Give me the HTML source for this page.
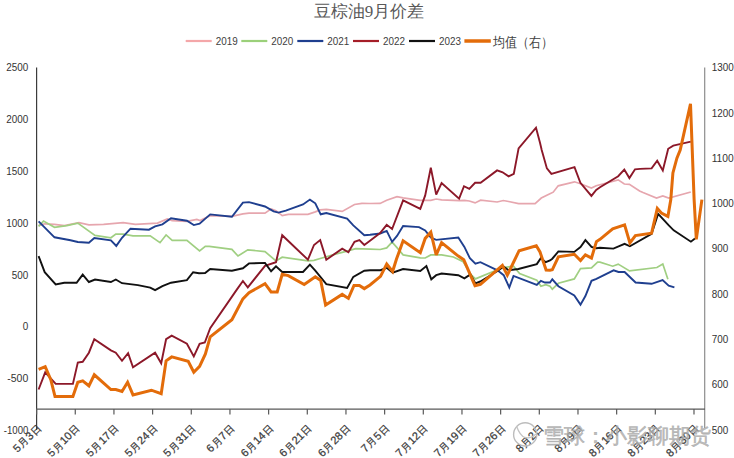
<!DOCTYPE html>
<html><head><meta charset="utf-8"><style>
html,body{margin:0;padding:0;background:#fff;}
body{width:734px;height:458px;overflow:hidden;font-family:"Liberation Sans",sans-serif;}
svg{display:block;}
text{font-family:"Liberation Sans",sans-serif;}
.ttl{font-family:"Liberation Serif",serif;}
</style></head><body>
<svg width="734" height="458" viewBox="0 0 734 458">
<rect width="734" height="458" fill="#fff"/>
<text x="369" y="17" text-anchor="middle" font-size="17" fill="#595959" class="ttl">豆棕油9月价差</text>
<line x1="185.7" y1="41" x2="211.7" y2="41" stroke="#F4A7A9" stroke-width="2.2"/>
<text x="215.7" y="45" font-size="11" fill="#404040" textLength="22" lengthAdjust="spacingAndGlyphs">2019</text>
<line x1="241.3" y1="41" x2="267.3" y2="41" stroke="#9BD07A" stroke-width="2.2"/>
<text x="271.3" y="45" font-size="11" fill="#404040" textLength="22" lengthAdjust="spacingAndGlyphs">2020</text>
<line x1="297.3" y1="41" x2="323.3" y2="41" stroke="#1F3F8F" stroke-width="2.2"/>
<text x="327.3" y="45" font-size="11" fill="#404040" textLength="22" lengthAdjust="spacingAndGlyphs">2021</text>
<line x1="353" y1="41" x2="379" y2="41" stroke="#A51E28" stroke-width="2.2"/>
<text x="383" y="45" font-size="11" fill="#404040" textLength="22" lengthAdjust="spacingAndGlyphs">2022</text>
<line x1="409" y1="41" x2="435" y2="41" stroke="#111111" stroke-width="2.2"/>
<text x="439" y="45" font-size="11" fill="#404040" textLength="22" lengthAdjust="spacingAndGlyphs">2023</text>
<line x1="464.4" y1="41" x2="490.8" y2="41" stroke="#E36C0A" stroke-width="3.5"/>
<text x="493" y="46.5" font-size="14" fill="#404040" textLength="60" lengthAdjust="spacingAndGlyphs">均值（右）</text>
<text x="28.3" y="71.30000000000001" text-anchor="end" font-size="11" fill="#333" textLength="22" lengthAdjust="spacingAndGlyphs">2500</text>
<text x="28.3" y="123.10000000000001" text-anchor="end" font-size="11" fill="#333" textLength="22" lengthAdjust="spacingAndGlyphs">2000</text>
<text x="28.3" y="174.9" text-anchor="end" font-size="11" fill="#333" textLength="22" lengthAdjust="spacingAndGlyphs">1500</text>
<text x="28.3" y="226.70000000000002" text-anchor="end" font-size="11" fill="#333" textLength="22" lengthAdjust="spacingAndGlyphs">1000</text>
<text x="28.3" y="278.5" text-anchor="end" font-size="11" fill="#333" textLength="16.5" lengthAdjust="spacingAndGlyphs">500</text>
<text x="28.3" y="330.29999999999995" text-anchor="end" font-size="11" fill="#333" textLength="5.5" lengthAdjust="spacingAndGlyphs">0</text>
<text x="28.3" y="382.09999999999997" text-anchor="end" font-size="11" fill="#333" textLength="21" lengthAdjust="spacingAndGlyphs">-500</text>
<text x="28.3" y="433.9" text-anchor="end" font-size="11" fill="#333" textLength="24.5" lengthAdjust="spacingAndGlyphs">-1000</text>
<text x="711.7" y="71.30000000000001" font-size="11" fill="#333" textLength="22" lengthAdjust="spacingAndGlyphs">1300</text>
<text x="711.7" y="116.60000000000001" font-size="11" fill="#333" textLength="22" lengthAdjust="spacingAndGlyphs">1200</text>
<text x="711.7" y="161.9" font-size="11" fill="#333" textLength="22" lengthAdjust="spacingAndGlyphs">1100</text>
<text x="711.7" y="207.1" font-size="11" fill="#333" textLength="22" lengthAdjust="spacingAndGlyphs">1000</text>
<text x="711.7" y="252.4" font-size="11" fill="#333" textLength="16.5" lengthAdjust="spacingAndGlyphs">900</text>
<text x="711.7" y="297.7" font-size="11" fill="#333" textLength="16.5" lengthAdjust="spacingAndGlyphs">800</text>
<text x="711.7" y="343.0" font-size="11" fill="#333" textLength="16.5" lengthAdjust="spacingAndGlyphs">700</text>
<text x="711.7" y="388.2" font-size="11" fill="#333" textLength="16.5" lengthAdjust="spacingAndGlyphs">600</text>
<text x="711.7" y="433.5" font-size="11" fill="#333" textLength="16.5" lengthAdjust="spacingAndGlyphs">500</text>
<line x1="36.6" y1="67.5" x2="36.6" y2="430" stroke="#3c3c3c" stroke-width="1.2"/>
<line x1="704.7" y1="67.5" x2="704.7" y2="428" stroke="#8c8c8c" stroke-width="1.2"/>
<line x1="36" y1="409.2" x2="705" y2="409.2" stroke="#595959" stroke-width="1.2"/>
<line x1="36.6" y1="409" x2="36.6" y2="414.5" stroke="#595959" stroke-width="1.2"/>
<line x1="75.27000000000001" y1="409" x2="75.27000000000001" y2="414.5" stroke="#595959" stroke-width="1.2"/>
<line x1="113.94" y1="409" x2="113.94" y2="414.5" stroke="#595959" stroke-width="1.2"/>
<line x1="152.61" y1="409" x2="152.61" y2="414.5" stroke="#595959" stroke-width="1.2"/>
<line x1="191.28" y1="409" x2="191.28" y2="414.5" stroke="#595959" stroke-width="1.2"/>
<line x1="229.95000000000002" y1="409" x2="229.95000000000002" y2="414.5" stroke="#595959" stroke-width="1.2"/>
<line x1="268.62" y1="409" x2="268.62" y2="414.5" stroke="#595959" stroke-width="1.2"/>
<line x1="307.29" y1="409" x2="307.29" y2="414.5" stroke="#595959" stroke-width="1.2"/>
<line x1="345.96000000000004" y1="409" x2="345.96000000000004" y2="414.5" stroke="#595959" stroke-width="1.2"/>
<line x1="384.63000000000005" y1="409" x2="384.63000000000005" y2="414.5" stroke="#595959" stroke-width="1.2"/>
<line x1="423.30000000000007" y1="409" x2="423.30000000000007" y2="414.5" stroke="#595959" stroke-width="1.2"/>
<line x1="461.97" y1="409" x2="461.97" y2="414.5" stroke="#595959" stroke-width="1.2"/>
<line x1="500.64000000000004" y1="409" x2="500.64000000000004" y2="414.5" stroke="#595959" stroke-width="1.2"/>
<line x1="539.3100000000001" y1="409" x2="539.3100000000001" y2="414.5" stroke="#595959" stroke-width="1.2"/>
<line x1="577.98" y1="409" x2="577.98" y2="414.5" stroke="#595959" stroke-width="1.2"/>
<line x1="616.6500000000001" y1="409" x2="616.6500000000001" y2="414.5" stroke="#595959" stroke-width="1.2"/>
<line x1="655.32" y1="409" x2="655.32" y2="414.5" stroke="#595959" stroke-width="1.2"/>
<line x1="693.99" y1="409" x2="693.99" y2="414.5" stroke="#595959" stroke-width="1.2"/>
<text transform="translate(41.800000000000004,428.8) rotate(-45)" text-anchor="end" font-size="11" fill="#3a3a3a" stroke="#3a3a3a" stroke-width="0.25">5<tspan font-size="10" dx="0.7">月</tspan><tspan dx="0.7">3</tspan><tspan font-size="10" dx="0.7">日</tspan></text>
<text transform="translate(80.47000000000001,428.8) rotate(-45)" text-anchor="end" font-size="11" fill="#3a3a3a" stroke="#3a3a3a" stroke-width="0.25">5<tspan font-size="10" dx="0.7">月</tspan><tspan dx="0.7">10</tspan><tspan font-size="10" dx="0.7">日</tspan></text>
<text transform="translate(119.14,428.8) rotate(-45)" text-anchor="end" font-size="11" fill="#3a3a3a" stroke="#3a3a3a" stroke-width="0.25">5<tspan font-size="10" dx="0.7">月</tspan><tspan dx="0.7">17</tspan><tspan font-size="10" dx="0.7">日</tspan></text>
<text transform="translate(157.81,428.8) rotate(-45)" text-anchor="end" font-size="11" fill="#3a3a3a" stroke="#3a3a3a" stroke-width="0.25">5<tspan font-size="10" dx="0.7">月</tspan><tspan dx="0.7">24</tspan><tspan font-size="10" dx="0.7">日</tspan></text>
<text transform="translate(196.48,428.8) rotate(-45)" text-anchor="end" font-size="11" fill="#3a3a3a" stroke="#3a3a3a" stroke-width="0.25">5<tspan font-size="10" dx="0.7">月</tspan><tspan dx="0.7">31</tspan><tspan font-size="10" dx="0.7">日</tspan></text>
<text transform="translate(235.15,428.8) rotate(-45)" text-anchor="end" font-size="11" fill="#3a3a3a" stroke="#3a3a3a" stroke-width="0.25">6<tspan font-size="10" dx="0.7">月</tspan><tspan dx="0.7">7</tspan><tspan font-size="10" dx="0.7">日</tspan></text>
<text transform="translate(273.82,428.8) rotate(-45)" text-anchor="end" font-size="11" fill="#3a3a3a" stroke="#3a3a3a" stroke-width="0.25">6<tspan font-size="10" dx="0.7">月</tspan><tspan dx="0.7">14</tspan><tspan font-size="10" dx="0.7">日</tspan></text>
<text transform="translate(312.49,428.8) rotate(-45)" text-anchor="end" font-size="11" fill="#3a3a3a" stroke="#3a3a3a" stroke-width="0.25">6<tspan font-size="10" dx="0.7">月</tspan><tspan dx="0.7">21</tspan><tspan font-size="10" dx="0.7">日</tspan></text>
<text transform="translate(351.16,428.8) rotate(-45)" text-anchor="end" font-size="11" fill="#3a3a3a" stroke="#3a3a3a" stroke-width="0.25">6<tspan font-size="10" dx="0.7">月</tspan><tspan dx="0.7">28</tspan><tspan font-size="10" dx="0.7">日</tspan></text>
<text transform="translate(389.83000000000004,428.8) rotate(-45)" text-anchor="end" font-size="11" fill="#3a3a3a" stroke="#3a3a3a" stroke-width="0.25">7<tspan font-size="10" dx="0.7">月</tspan><tspan dx="0.7">5</tspan><tspan font-size="10" dx="0.7">日</tspan></text>
<text transform="translate(428.50000000000006,428.8) rotate(-45)" text-anchor="end" font-size="11" fill="#3a3a3a" stroke="#3a3a3a" stroke-width="0.25">7<tspan font-size="10" dx="0.7">月</tspan><tspan dx="0.7">12</tspan><tspan font-size="10" dx="0.7">日</tspan></text>
<text transform="translate(467.17,428.8) rotate(-45)" text-anchor="end" font-size="11" fill="#3a3a3a" stroke="#3a3a3a" stroke-width="0.25">7<tspan font-size="10" dx="0.7">月</tspan><tspan dx="0.7">19</tspan><tspan font-size="10" dx="0.7">日</tspan></text>
<text transform="translate(505.84000000000003,428.8) rotate(-45)" text-anchor="end" font-size="11" fill="#3a3a3a" stroke="#3a3a3a" stroke-width="0.25">7<tspan font-size="10" dx="0.7">月</tspan><tspan dx="0.7">26</tspan><tspan font-size="10" dx="0.7">日</tspan></text>
<text transform="translate(544.5100000000001,428.8) rotate(-45)" text-anchor="end" font-size="11" fill="#3a3a3a" stroke="#3a3a3a" stroke-width="0.25">8<tspan font-size="10" dx="0.7">月</tspan><tspan dx="0.7">2</tspan><tspan font-size="10" dx="0.7">日</tspan></text>
<text transform="translate(583.1800000000001,428.8) rotate(-45)" text-anchor="end" font-size="11" fill="#3a3a3a" stroke="#3a3a3a" stroke-width="0.25">8<tspan font-size="10" dx="0.7">月</tspan><tspan dx="0.7">9</tspan><tspan font-size="10" dx="0.7">日</tspan></text>
<text transform="translate(621.8500000000001,428.8) rotate(-45)" text-anchor="end" font-size="11" fill="#3a3a3a" stroke="#3a3a3a" stroke-width="0.25">8<tspan font-size="10" dx="0.7">月</tspan><tspan dx="0.7">16</tspan><tspan font-size="10" dx="0.7">日</tspan></text>
<text transform="translate(660.5200000000001,428.8) rotate(-45)" text-anchor="end" font-size="11" fill="#3a3a3a" stroke="#3a3a3a" stroke-width="0.25">8<tspan font-size="10" dx="0.7">月</tspan><tspan dx="0.7">23</tspan><tspan font-size="10" dx="0.7">日</tspan></text>
<text transform="translate(699.19,428.8) rotate(-45)" text-anchor="end" font-size="11" fill="#3a3a3a" stroke="#3a3a3a" stroke-width="0.25">8<tspan font-size="10" dx="0.7">月</tspan><tspan dx="0.7">30</tspan><tspan font-size="10" dx="0.7">日</tspan></text>
<polyline points="38.6,225.6 44.7,223.8 54.5,224.3 64.3,225.6 79.0,222.6 88.9,224.8 103.6,224.3 123.2,222.6 135.4,224.3 157.5,223.1 167.3,218.9 172.2,220.7 186.9,221.4 196.8,219.4 200.0,220.5 210.2,215.7 231.9,216.3 242.9,213.8 249.0,213.1 265.0,213.1 271.1,208.9 276.0,210.7 282.2,215.6 288.3,214.3 307.9,214.3 315.3,211.9 320.2,209.9 326.3,209.4 342.2,211.4 354.5,204.5 361.9,203.3 370.0,203.5 380.1,203.4 386.7,200.3 397.0,196.6 403.1,197.8 420.3,200.3 430.8,200.3 436.2,199.0 441.6,199.8 459.1,200.6 464.4,200.3 469.3,201.0 475.1,202.9 480.6,200.2 497.1,202.0 503.3,200.5 508.6,201.5 518.6,203.6 535.1,203.6 541.3,198.0 549.4,194.1 553.2,192.2 558.2,185.8 574.5,181.8 580.4,183.8 591.4,188.1 596.2,185.8 618.2,179.9 624.3,184.0 629.4,184.3 639.6,190.9 643.0,192.5 656.5,198.1 662.8,195.9 668.8,198.1 690.8,192.0" fill="none" stroke="#E6A6AE" stroke-width="1.7" stroke-linejoin="miter" stroke-miterlimit="3"/>
<polyline points="38.6,226.3 43.5,221.1 54.5,227.3 66.8,225.6 77.8,223.1 95.0,235.4 110.9,237.8 115.8,234.1 123.2,234.1 133.0,235.9 150.2,235.9 160.0,242.7 166.1,234.9 172.2,240.3 186.9,240.3 199.6,250.9 205.3,246.4 209.3,246.3 231.9,249.4 238.0,256.0 247.8,249.9 265.0,251.6 276.0,260.9 282.2,257.2 307.9,260.9 314.0,260.4 320.2,258.5 337.3,253.6 347.1,251.1 355.7,248.7 370.0,249.1 380.2,249.5 386.7,247.9 392.1,242.1 397.0,247.6 403.1,254.9 420.3,257.9 425.2,258.0 430.8,254.9 441.6,254.9 453.4,257.0 463.2,261.7 470.5,274.0 475.4,278.9 502.4,267.8 513.5,266.1 519.6,273.5 536.8,280.1 540.9,286.2 545.8,284.6 550.0,286.2 552.3,289.2 558.4,283.3 574.3,278.9 580.5,268.6 591.5,267.8 597.6,262.2 600.0,262.2 612.7,266.2 618.2,264.1 629.5,270.9 656.9,267.5 662.8,264.0 667.9,279.3" fill="none" stroke="#A0CF82" stroke-width="1.7" stroke-linejoin="miter" stroke-miterlimit="3"/>
<polyline points="38.6,221.4 54.5,237.3 70.5,240.3 77.8,242.0 88.9,242.7 94.3,238.1 110.9,240.3 116.3,245.9 122.0,237.8 130.5,228.7 148.9,229.7 155.1,226.3 162.4,224.3 171.0,218.2 186.9,220.7 193.8,225.1 199.6,223.6 210.2,214.4 231.9,216.8 242.9,202.6 249.0,202.1 265.0,206.5 273.6,211.4 278.5,212.6 285.8,210.7 303.0,204.5 309.9,199.6 315.3,203.3 320.7,214.3 326.3,213.1 347.1,218.7 353.3,225.4 364.3,235.2 370.1,234.8 380.2,233.5 386.7,230.9 392.1,241.8 397.0,235.9 403.1,226.1 419.0,227.1 425.2,230.4 430.8,237.5 436.2,239.9 458.3,237.6 464.4,246.9 469.9,258.3 475.4,263.7 480.4,262.2 497.5,270.3 503.7,275.2 509.3,287.4 513.5,275.9 536.8,285.0 540.9,280.8 544.9,282.5 550.0,282.5 552.3,279.3 558.4,286.2 574.3,295.5 580.5,304.6 585.4,296.0 591.5,280.8 596.4,278.9 613.6,270.3 618.5,272.0 624.6,272.0 635.6,282.5 651.6,283.8 662.6,280.1 668.7,285.7 674.4,287.4" fill="none" stroke="#1F3F8F" stroke-width="1.9" stroke-linejoin="miter" stroke-miterlimit="3"/>
<polyline points="38.6,389.5 45.2,372.3 55.7,383.9 72.9,383.9 77.8,362.5 82.7,361.8 88.9,352.7 94.3,339.2 110.9,350.3 115.8,352.7 122.0,360.8 128.1,353.2 133.0,367.4 155.1,352.7 161.2,363.3 166.1,339.2 171.7,335.6 186.9,343.7 193.8,356.4 199.6,343.8 204.8,342.5 210.2,328.1 236.8,289.6 242.9,281.0 247.8,287.4 265.0,265.8 276.0,262.2 282.2,235.2 307.9,259.7 314.0,245.0 320.2,240.1 326.3,259.7 342.2,248.7 348.4,252.3 354.5,241.8 359.4,240.1 364.3,245.0 370.0,240.7 380.1,233.1 386.7,224.8 392.1,229.0 403.1,200.3 420.3,208.9 425.2,195.4 430.8,167.7 436.2,194.6 441.6,183.1 459.1,198.7 464.0,186.2 469.3,188.8 475.1,182.8 480.6,182.8 497.1,170.4 502.6,172.3 508.6,176.3 513.8,173.9 518.6,148.4 536.0,127.7 540.0,142.7 541.7,150.0 546.9,168.4 551.4,173.9 574.5,167.1 580.4,182.8 591.4,195.9 596.2,189.9 600.0,187.3 618.2,176.2 624.3,169.6 629.4,178.1 635.0,169.3 640.0,168.9 651.6,168.4 657.2,160.8 662.8,170.4 668.2,148.8 673.3,145.6 690.8,141.6" fill="none" stroke="#8C1829" stroke-width="1.9" stroke-linejoin="miter" stroke-miterlimit="3"/>
<polyline points="38.6,256.2 44.7,272.2 55.7,284.4 64.3,282.7 76.6,282.7 82.7,274.6 88.9,282.0 95.0,279.5 110.9,282.0 115.8,279.5 122.0,283.2 137.9,285.1 150.2,287.6 155.1,290.1 162.4,286.1 171.0,282.7 186.9,280.2 193.1,272.2 199.0,273.3 205.1,273.0 210.2,269.0 231.9,270.7 242.9,268.3 249.0,263.4 265.0,262.9 271.1,271.2 276.0,266.3 282.2,272.0 303.0,272.0 309.9,264.6 315.3,270.7 326.3,284.2 347.1,287.9 353.3,276.9 364.3,270.7 370.0,270.3 380.5,270.2 386.7,267.8 392.6,272.7 403.1,269.0 420.3,271.0 426.4,266.1 431.3,279.3 436.2,275.2 441.6,273.5 458.3,275.2 464.4,278.4 470.5,274.4 475.4,283.5 480.4,281.5 497.5,271.0 503.7,266.6 508.6,270.3 518.4,269.0 536.8,264.1 540.8,258.1 545.7,262.2 550.0,260.5 552.3,258.7 558.4,251.4 574.3,251.9 580.5,247.0 585.4,240.1 591.5,247.0 596.4,248.2 600.0,247.8 613.4,248.6 624.6,243.9 629.9,246.3 651.6,233.9 658.1,213.9 668.8,225.4 673.7,230.3 690.9,241.7 695.0,238.5" fill="none" stroke="#111" stroke-width="1.9" stroke-linejoin="miter" stroke-miterlimit="3"/>
<polyline points="38.6,369.4 45.2,366.7 50.8,379.7 55.0,396.4 72.9,396.4 77.8,382.2 82.7,380.9 88.9,385.8 94.3,374.8 110.9,389.5 115.8,389.5 122.0,391.5 127.6,382.2 133.0,394.9 151.4,390.2 161.2,393.7 166.1,360.8 171.7,356.9 188.2,361.3 193.8,372.3 199.6,366.4 205.4,353.9 210.2,336.9 231.9,319.7 242.9,298.9 249.0,292.7 265.0,283.7 271.1,292.0 277.2,292.0 282.2,274.3 288.3,275.6 304.2,284.6 315.3,276.8 320.7,280.5 325.6,305.0 342.2,294.4 348.4,298.4 354.0,285.4 359.4,285.4 364.3,288.6 370.0,285.0 380.5,276.4 386.7,264.1 392.6,271.5 396.5,259.1 403.1,240.8 420.3,252.7 425.2,238.4 430.8,232.2 436.2,254.9 441.6,242.6 458.3,256.1 463.8,259.8 475.0,285.7 480.4,284.3 502.4,265.4 507.3,275.2 519.1,250.7 536.3,245.7 540.0,251.9 546.1,270.1 550.0,270.3 552.3,269.8 558.4,256.8 574.3,254.3 580.5,260.5 585.4,254.8 591.5,258.0 596.4,241.6 600.0,239.3 612.7,228.9 624.6,224.9 629.9,243.0 635.4,235.6 651.6,233.2 657.3,208.5 661.4,213.1 667.9,216.4 670.8,199.6 672.9,172.9 676.9,158.2 680.2,150.0 690.5,103.9 694.1,199.1 696.3,239.3 701.9,199.6" fill="none" stroke="#E36C0A" stroke-width="3.0" stroke-linejoin="miter" stroke-miterlimit="3"/>
<g><circle cx="525.2" cy="434.4" r="11.6" fill="none" stroke="#bdbdbd" stroke-width="1.4"/><path d="M516.5 426 Q520 436 525 437.5 Q531 439 536 434" fill="none" stroke="#c4c4c4" stroke-width="1.3"/><text x="543" y="443" font-size="21" fill="#ababab" fill-opacity="0.8" stroke="#ababab" stroke-opacity="0.8" stroke-width="0.6" textLength="168" lengthAdjust="spacingAndGlyphs">雪球：小影聊期货</text></g>
</svg></body></html>
